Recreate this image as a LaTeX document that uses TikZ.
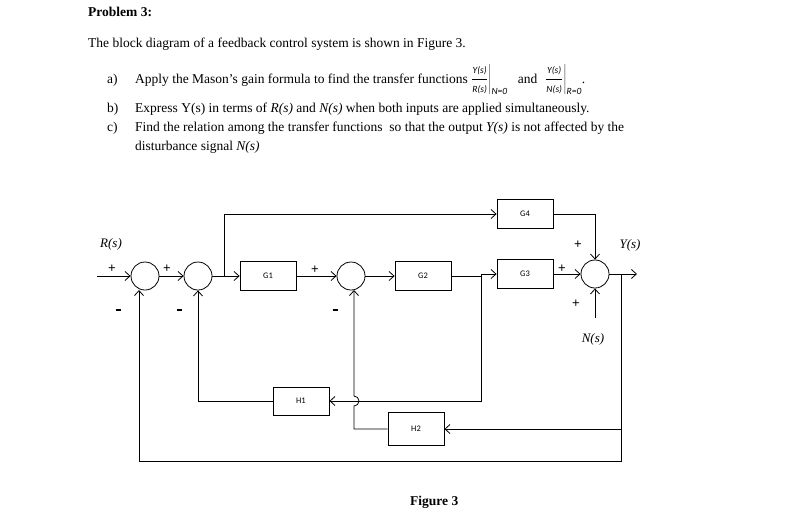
\documentclass[tikz,border=0pt]{standalone}
\usepackage{fontspec}
\setmainfont{Liberation Serif}
\newfontfamily\blk{Carlito}
\newfontfamily\sgn{Liberation Sans}
\usetikzlibrary{arrows.meta}
\newcommand{\myt}[1]{\hbox{\fontsize{9.5}{10}\selectfont\blk\itshape #1}}
\newcommand{\myfr}[3]{$\displaystyle\left.\frac{\myt{#1}}{\myt{#2}}\right|_{\myt{#3}}$}
\begin{document}
\begin{tikzpicture}[x=1pt,y=-1pt,
  ln/.style={line width=0.8pt},
  ar/.style={ln,-{Straight Barb[length=5pt,width=9pt]}},
  blk/.style={draw,line width=0.8pt,minimum width=56pt,minimum height=29pt,inner sep=0pt,font=\blk\fontsize{8.5}{9}\selectfont},
  sm/.style={draw,circle,line width=0.8pt,minimum size=28pt,inner sep=0pt},
  txt/.style={anchor=base west,inner sep=0pt,font=\fontsize{13.5}{16}\selectfont},
  sg/.style={inner sep=0pt,font=\sgn\fontsize{13}{13}\selectfont},
  lab/.style={inner sep=0pt,font=\fontsize{13}{15}\selectfont\itshape}]
\useasboundingbox (0,0) rectangle (794,512);
\node[txt,font=\bfseries\fontsize{13.5}{16}\selectfont] (t0) at (88,16) {Problem 3:};
\node[txt] (t1) at (88,47) {The block diagram of a feedback control system is shown in Figure 3.};
\node[txt] (ta) at (107,83) {a)};
\node[txt] (a) at (135,83) {Apply the Mason’s gain formula to find the transfer functions\,\myfr{Y(s)}{R(s)}{N=0}\ \ \ and \ \myfr{Y(s)}{N(s)}{R=0}.};
\node[txt] (tb) at (107,112) {b)};
\node[txt] (b) at (135,112) {Express Y(s) in terms of \textit{R(s)} and \textit{N(s)} when both inputs are applied simultaneously.};
\node[txt] (tc) at (107,131) {c)};
\node[txt] (c) at (135,131) {Find the relation among the transfer functions\ \ so that the output \textit{Y(s)} is not affected by the};
\node[txt] (c2) at (135,150) {disturbance signal \textit{N(s)}};
\node[txt,font=\bfseries\fontsize{13.5}{16}\selectfont] (fig) at (410,505) {Figure 3};

\node[sm] (s1) at (145,276) {};
\node[sm] (s2) at (198,276) {};
\node[sm] (s3) at (351,276) {};
\node[sm] (s4) at (595,274) {};
\node[blk] (g1) at (268,276) {G1};
\node[blk] (g2) at (423,276) {G2};
\node[blk] (g3) at (525,274) {G3};
\node[blk] (g4) at (525,214) {G4};
\node[blk,minimum height=28pt] (h1) at (301,401) {H1};
\node[blk,minimum height=33pt] (h2) at (416,429) {H2};

\coordinate (in) at (97,276);
\coordinate (out) at (637,274);
\coordinate (b1) at (224,276);
\coordinate (b2) at (481,276);
\coordinate (b3) at (621,274);
\coordinate (ns) at (595,318);

\draw[ar] (in) -- (s1);
\draw[ar] (s1) -- (s2);
\draw[ar] (s2) -- (g1);
\draw[ar] (g1) -- (s3);
\draw[ar] (s3) -- (g2);
\draw[ar] (g2.east) -- (b2) |- (g3.west);
\draw[ar] (g3) -- (s4);
\draw[ar] (s4) -- (out);
\draw[ar] (b1) |- (g4.west);
\draw[ar] (g4.east) -| (s4.north);
\draw[ar] (ns) -- (s4.south);
\draw[ar] (b2) |- (h1.east);
\draw[ar] (h1.west) -| (s2.south);
\draw[ar] (b3) |- (h2.east);
\draw[ar] (b3) |- (139,461) -- (139,290);
\draw[ar] (h2.west) -| (354,406) arc[start angle=-90,end angle=90,radius=5pt] -- (354,290);

\node[lab] (rs) at (111,244) {\textit{R(s)}};
\node[lab] (ys) at (630,245) {\textit{Y(s)}};
\node[lab] (nsl) at (593,339) {\textit{N(s)}};
\node[sg] (p1) at (112,269) {+};
\node[sg] (m1) at (118,310) {\rule{5pt}{1.6pt}};
\node[sg] (p2) at (167,269) {+};
\node[sg] (m2) at (179,310) {\rule{5pt}{1.6pt}};
\node[sg] (p3) at (315,270) {+};
\node[sg] (m3) at (335,310) {\rule{5pt}{1.6pt}};
\node[sg] (p4) at (578,245) {+};
\node[sg] (p5) at (562,269) {+};
\node[sg] (p6) at (576,304) {+};
\end{tikzpicture}
\end{document}
